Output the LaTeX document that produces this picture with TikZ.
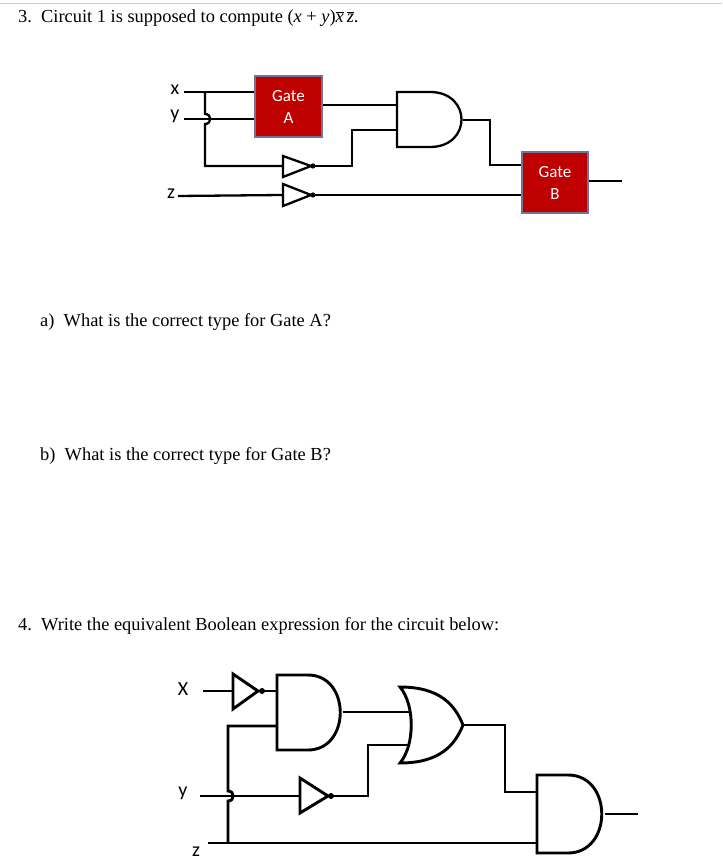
\documentclass[tikz,border=0pt]{standalone}
\usepackage{fontspec}
\setmainfont{Liberation Serif}
\newfontfamily\lab{Carlito}
\newcommand{\vi}[1]{\mbox{\textit{#1}}}
\begin{document}
\begin{tikzpicture}[x=1pt,y=-1pt,
  wire/.style={line width=2.3pt,line join=miter},
  thick2/.style={line width=2.9pt},
  gatebox/.style={draw=blue!25!black!55!white,fill=red!75!black,line width=2pt,text=white,font=\lab\fontsize{17}{19}\selectfont,align=center,inner sep=0pt},
  txt/.style={anchor=west,font=\fontsize{18.4}{20}\selectfont,inner sep=0pt},
  lbl/.style={font=\lab\fontsize{20}{22}\selectfont,inner sep=0pt}]
\useasboundingbox (0,0) rectangle (722,866);
\draw[gray!40,line width=0.8pt] (0,3) -- (722,3);
\node[txt] (q3) at (18,18) {3.\ \ Circuit 1 is supposed to compute ($\vi{x}$ + $\vi{y}$)$\overline{\vi{x}}\,\overline{\vi{z}}$.};
\node[txt] (qa) at (40,322) {a)\ \ What is the correct type for Gate A?};
\node[txt] (qb) at (40,456) {b)\ \ What is the correct type for Gate B?};
\node[txt] (q4) at (18,626) {4.\ \ Write the equivalent Boolean expression for the circuit below:};

% ---- Circuit 1
\node[lbl] (x1) at (175,90) {x};
\node[lbl] (y1) at (175,116) {y};
\node[lbl] (z1) at (171,194) {z};
\node[gatebox,minimum width=67pt,minimum height=61pt] (GA) at (288.5,106.5) {Gate\\[3pt]A};
\node[gatebox,minimum width=66pt,minimum height=61pt] (GB) at (555,182.5) {Gate\\[3pt]B};
\draw[wire] (397,92) -- (430,92) .. controls (472,92) and (472,147) .. (430,147) -- (397,147) -- cycle;
\coordinate (and1a) at (397,105); \coordinate (and1b) at (397,130); \coordinate (and1o) at (463,120);
\draw[wire] (283,156) -- (311,166) -- (283,177) -- cycle; \fill (313,166) circle (2.6pt);
\coordinate (inv1i) at (283,166); \coordinate (inv1o) at (313,166);
\draw[wire] (283,184) -- (311,195) -- (283,206) -- cycle; \fill (313,195) circle (2.6pt);
\coordinate (inv2i) at (283,195); \coordinate (inv2o) at (313,195);
\draw[wire] (184,92) -- (GA.west |- 0,92);
\draw[wire] (184,119) -- (GA.west |- 0,119);
\draw[wire] (205,92) -- (205,114) .. controls (212,114) and (212,124) .. (205,124) -- (205,166) -- (inv1i);
\draw[wire] (GA.east |- 0,105) -- (and1a);
\draw[wire] (inv1o) -- (352,166) -- (352,130) -- (and1b);
\draw[wire] (and1o) -- (490,120) -- (490,165) -- (GB.west |- 0,165);
\draw[wire] (178,196) -- (inv2i);
\draw[wire] (inv2o) -- (GB.west |- 0,195);
\draw[wire] (GB.east |- 0,181) -- (622,181);

% ---- Circuit 2
\begin{scope}[every path/.append style={thick2}]
\node[lbl] (x2) at (183,689) {X};
\node[lbl] (y2) at (183,793) {y};
\node[lbl] (z2) at (196,852) {z};
\draw[wire,thick2] (233,674) -- (258,691) -- (233,709) -- cycle; \fill (262,691) circle (3pt);
\coordinate (inv3i) at (233,691); \coordinate (inv3o) at (262,691);
\draw[wire,thick2] (300,778) -- (328,796) -- (300,813) -- cycle; \fill (331,796) circle (3pt);
\coordinate (inv4i) at (300,796); \coordinate (inv4o) at (331,796);
\draw[wire,thick2] (277,675) -- (308,675) .. controls (351,675) and (351,750) .. (308,750) -- (277,750) -- cycle;
\coordinate (a2a) at (277,691); \coordinate (a2b) at (277,726); \coordinate (a2o) at (343,712);
\draw[wire,thick2] (400,687) .. controls (415,705) and (415,745) .. (400,763)
  .. controls (440,763) and (455,745) .. (463,725)
  .. controls (455,705) and (440,687) .. (400,687) -- cycle;
\coordinate (oa) at (410,712); \coordinate (ob) at (410,745); \coordinate (oo) at (463,725);
\draw[wire,thick2] (537,775) -- (568,775) .. controls (613,775) and (613,853) .. (568,853) -- (537,853) -- cycle;
\coordinate (a3a) at (537,792); \coordinate (a3b) at (537,843); \coordinate (a3o) at (605,814);
\draw[wire,thick2] (203,691) -- (inv3i);
\draw[wire,thick2] (inv3o) -- (a2a);
\draw[wire,thick2] (a2b) -- (228,726) -- (228,791) .. controls (235,791) and (235,801) .. (228,801) -- (228,843);
\draw[wire,thick2] (a2o) -- (oa);
\draw[wire,thick2] (200,796) -- (inv4i);
\draw[wire,thick2] (inv4o) -- (368,796) -- (368,745) -- (ob);
\draw[wire,thick2] (oo) -- (505,725) -- (505,792) -- (a3a);
\draw[wire,thick2] (208,843) -- (a3b);
\draw[wire,thick2] (a3o) -- (638,814);
\end{scope}
\end{tikzpicture}
\end{document}
